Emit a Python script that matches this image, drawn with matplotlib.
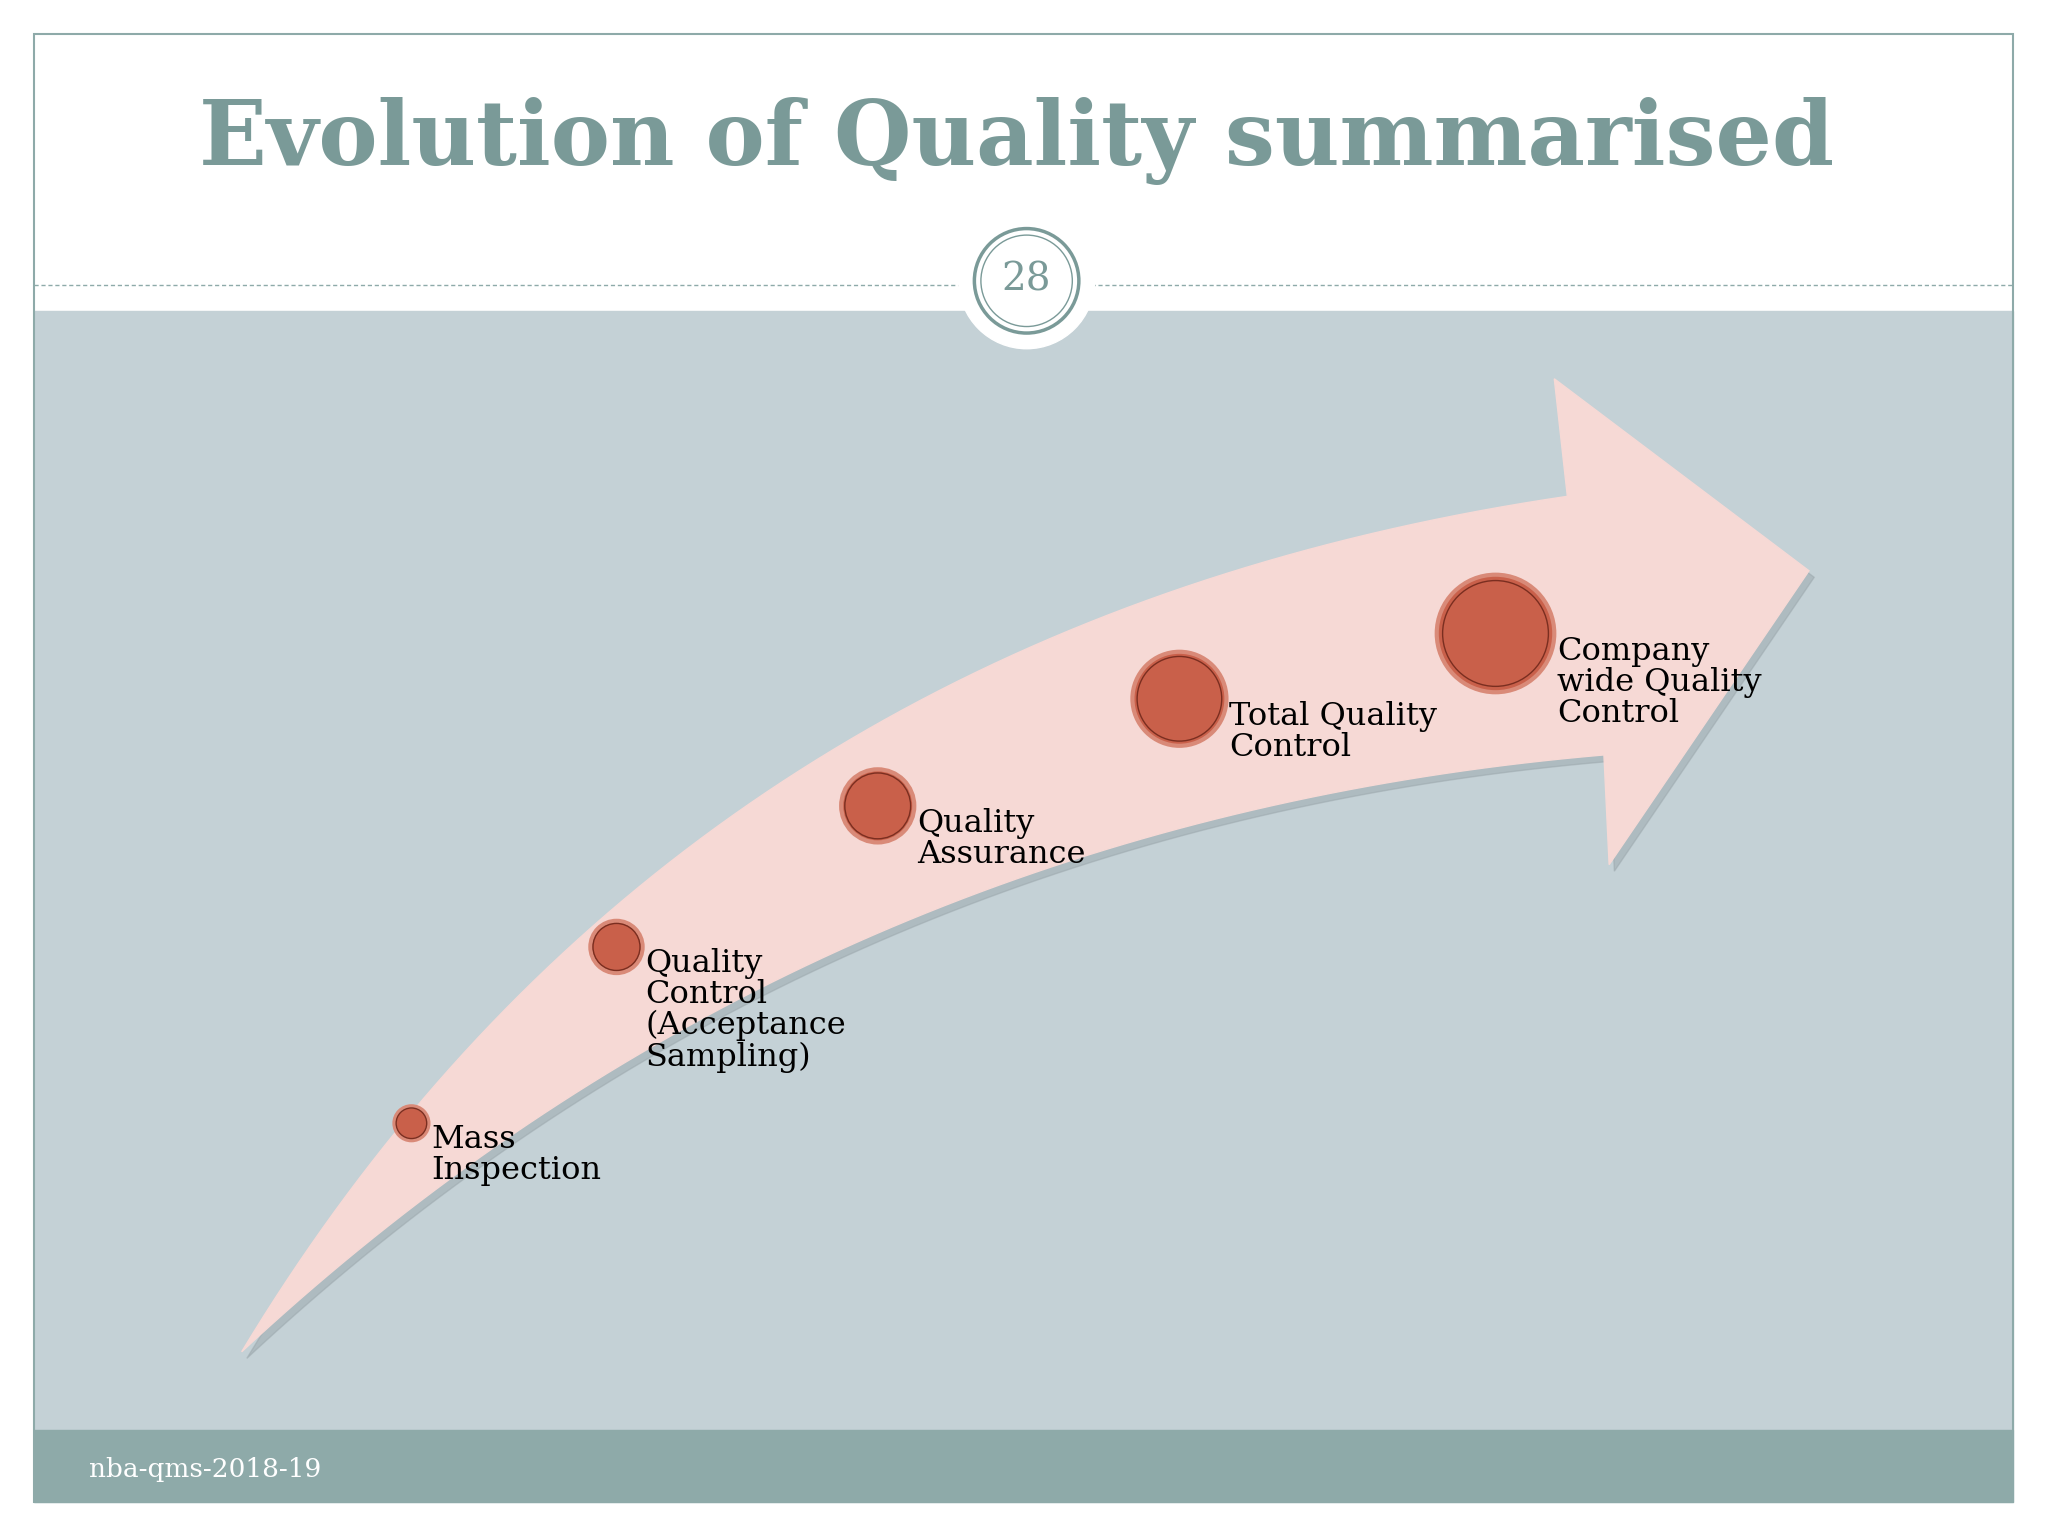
import numpy as np
import matplotlib
matplotlib.use("Agg")
import matplotlib.pyplot as plt
from matplotlib.patches import Rectangle, Circle, Polygon

title = "Evolution of Quality summarised"
page_number = "28"
footer = "nba-qms-2018-19"
stages = ["Mass\nInspection", "Quality\nControl\n(Acceptance\nSampling)", "Quality\nAssurance",
          "Total Quality\nControl", "Company\nwide Quality\nControl"]
stage_x = [315, 472, 672, 903, 1145]
stage_y = [860, 725, 617, 535, 485]
stage_r = [13, 20, 28, 36, 45]

W, H = 1568, 1176
fig = plt.figure(figsize=(20.48, 15.36), dpi=100)
ax = fig.add_axes([0, 0, 1, 1])
ax.set_xlim(0, W); ax.set_ylim(H, 0); ax.axis('off')
serif = ['DejaVu Serif', 'Liberation Serif']

ax.add_patch(Rectangle((0, 0), W, H, color='white', zorder=0))
ax.add_patch(Rectangle((26, 238), 1515, 857, color='#c4d1d6', zorder=1))
ax.add_patch(Rectangle((26, 1095), 1515, 55, color='#8eaaa9', zorder=1))
ax.add_patch(Rectangle((26, 26), 1515, 1124, fill=False, ec='#8eaaa9', lw=1.5, zorder=5))
ax.plot([26, 735], [218, 218], ls=(0, (3, 2)), color='#8eaaa9', lw=1, zorder=2)
ax.plot([835, 1541], [218, 218], ls=(0, (3, 2)), color='#8eaaa9', lw=1, zorder=2)
ax.add_patch(Circle((786, 215), 52, color='white', zorder=3))
ax.add_patch(Circle((786, 215), 40, fill=False, ec='#7a9a98', lw=2.5, zorder=4))
ax.add_patch(Circle((786, 215), 35, fill=False, ec='#7a9a98', lw=1, zorder=4))
ax.text(786, 214, page_number, ha='center', va='center', fontsize=28, color='#7a9a98', family=serif, zorder=5)
ax.text(778, 108, title, ha='center', va='center', fontsize=64, fontweight='bold', color='#7a9a98', family=serif, zorder=5)
ax.text(68, 1125, footer, ha='left', va='center', fontsize=19, color='white', family=serif, zorder=5)

def bez(p0, p1, p2, n=80):
    t = np.linspace(0, 1, n)[:, None]
    return (1-t)**2*np.array(p0) + 2*(1-t)*t*np.array(p1) + t**2*np.array(p2)

upper = bez((185, 1035), (520, 480), (1200, 380))
lower = bez((185, 1035), (620, 630), (1228, 578))
head = np.array([(1200, 380), (1190, 290), (1385, 437), (1232, 662), (1228, 578)])
pts = np.vstack([upper, head, lower[::-1]])
shadow = Polygon(pts + np.array([4, 5]), closed=True, color='#9aa6ab', alpha=0.5, zorder=2)
ax.add_patch(shadow)
ax.add_patch(Polygon(pts, closed=True, color='#f6d9d5', zorder=3))

for x, y, r, s in zip(stage_x, stage_y, stage_r, stages):
    ax.add_patch(Circle((x, y), r, fc='#c9604a', ec='#d98a78', lw=3, zorder=4))
    ax.add_patch(Circle((x, y), r*0.9, fill=False, ec='#7a2e20', lw=1, zorder=5))
    ax.text(x + r + 2, y + r*0.05, s, ha='left', va='top', fontsize=23, family=serif,
            color='black', linespacing=1.0, zorder=6)

fig.savefig('out.png', dpi=100)
